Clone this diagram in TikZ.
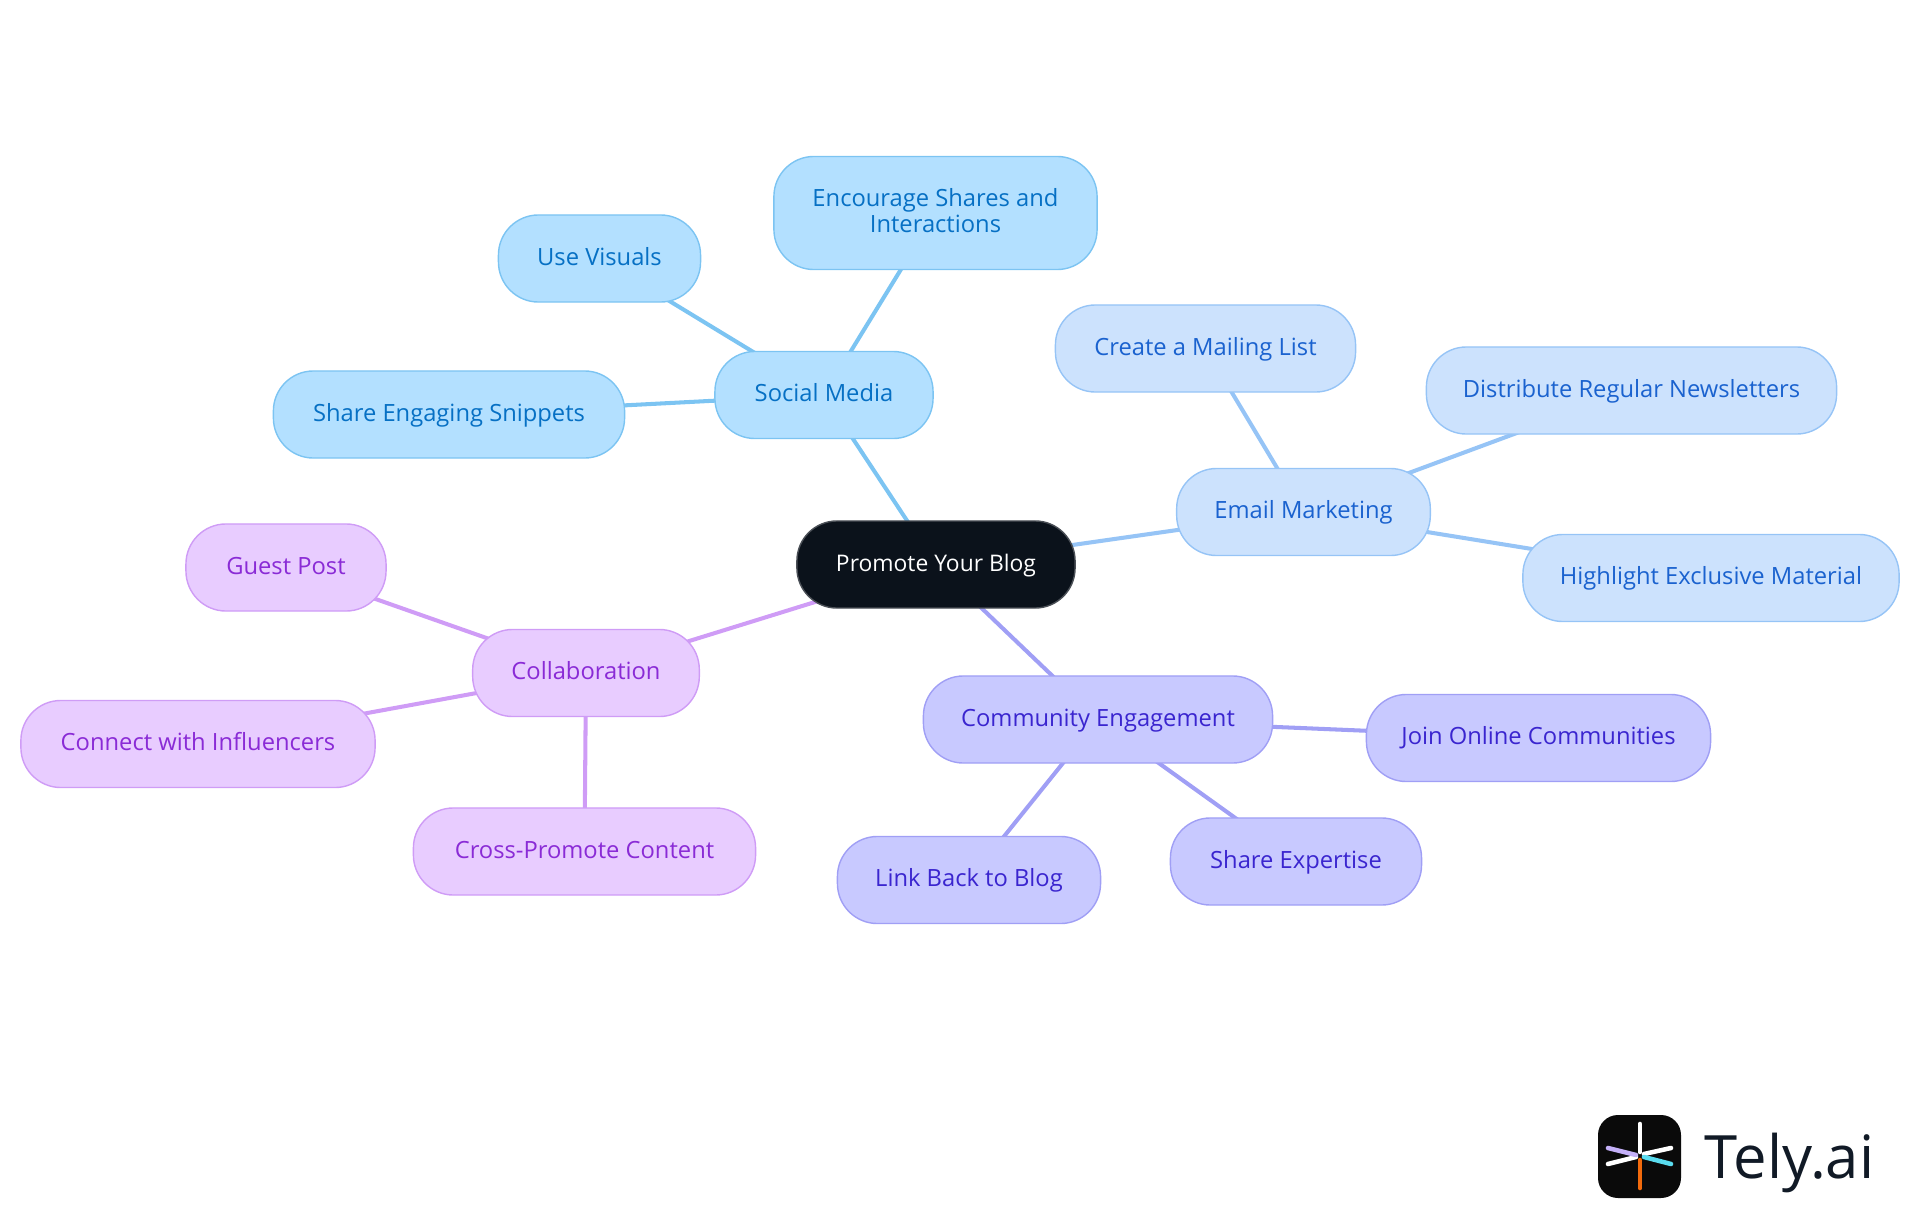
\documentclass[tikz,border=0pt]{standalone}
\usepackage{fontspec}
\setmainfont{Open Sans}
\usetikzlibrary{backgrounds}
\definecolor{rootfill}{HTML}{0B121B}
\definecolor{rootline}{HTML}{4A4F56}
\definecolor{socialfill}{HTML}{B3E0FF}
\definecolor{socialline}{HTML}{7CC4F2}
\definecolor{socialtext}{HTML}{0670C4}
\definecolor{emailfill}{HTML}{CCE2FD}
\definecolor{emailline}{HTML}{96C4F6}
\definecolor{emailtext}{HTML}{1A62CF}
\definecolor{communityfill}{HTML}{C8C9FF}
\definecolor{communityline}{HTML}{A09FF5}
\definecolor{communitytext}{HTML}{3A25CF}
\definecolor{collabfill}{HTML}{E8CCFF}
\definecolor{collabline}{HTML}{CF9CF6}
\definecolor{collabtext}{HTML}{8A2BD6}
\definecolor{logotext}{HTML}{111A26}
\definecolor{logoback}{HTML}{0A0A0A}
\definecolor{logoorange}{HTML}{F26A0C}
\definecolor{logopurple}{HTML}{C4B0F8}
\definecolor{logocyan}{HTML}{5ADCEF}

\begin{document}
\begin{tikzpicture}[x=0.01cm, y=-0.01cm,
    every node/.style={font=\fontsize{6.75}{7.4}\selectfont, align=center, inner sep=0pt, minimum height=0.87cm, rounded corners=0.4cm, line width=0.4pt},
    oneline/.style={text height=5.9pt, text depth=2pt},
    root/.style={oneline, draw=rootline, fill=rootfill, text=white, font=\fontsize{6.5}{7.4}\selectfont},
    social/.style={oneline, draw=socialline, fill=socialfill, text=socialtext},
    email/.style={oneline, draw=emailline, fill=emailfill, text=emailtext},
    community/.style={oneline, draw=communityline, fill=communityfill, text=communitytext},
    collab/.style={oneline, draw=collabline, fill=collabfill, text=collabtext},
    link/.style={line width=1.15pt},
    spoke/.style={line width=1.3pt, line cap=round}]
    \useasboundingbox (0,0) rectangle (1920,1215);

    \node[root, minimum width=2.78cm] (blog) at (936,564.5) {Promote Your Blog};

    \node[social, minimum width=2.18cm] (media) at (824,395) {Social Media};
    \node[social, minimum width=3.23cm, minimum height=1.13cm, text height=, text depth=] (shares) at (935.5,213) {Encourage Shares and\\Interactions\vspace{1.5pt}};
    \node[social, minimum width=2.02cm] (visuals) at (599.5,258.5) {Use Visuals};
    \node[social, minimum width=3.51cm] (snippets) at (449,414.5) {Share Engaging Snippets};

    \node[email, minimum width=2.535cm] (mail) at (1303.5,512) {Email Marketing};
    \node[email, minimum width=3cm] (list) at (1205.5,348.5) {Create a Mailing List};
    \node[email, minimum width=4.1cm] (letters) at (1631.5,390.5) {Distribute Regular Newsletters};
    \node[email, minimum width=3.76cm] (material) at (1711,578) {Highlight Exclusive Material};

    \node[community, minimum width=3.49cm] (people) at (1098,719.5) {Community Engagement};
    \node[community, minimum width=3.44cm] (online) at (1538.5,738) {Join Online Communities};
    \node[community, minimum width=2.51cm] (expert) at (1296,861.5) {Share Expertise};
    \node[community, minimum width=2.63cm] (back) at (969,880) {Link Back to Blog};

    \node[collab, minimum width=2.265cm] (team) at (586,673) {Collaboration};
    \node[collab, minimum width=2cm] (guest) at (286,567.5) {Guest Post};
    \node[collab, minimum width=3.54cm] (influencers) at (198,744) {Connect with Influencers};
    \node[collab, minimum width=3.42cm] (cross) at (584.5,851.5) {Cross-Promote Content};

    \begin{pgfonlayer}{background}
    \draw[link, socialline] (blog.center) -- (media.center);
    \draw[link, socialline] (media.center) -- (shares.center);
    \draw[link, socialline] (media.center) -- (visuals.center);
    \draw[link, socialline] (media.center) -- (snippets.center);
    \draw[link, emailline] (blog.center) -- (mail.center);
    \draw[link, emailline] (mail.center) -- (list.center);
    \draw[link, emailline] (mail.center) -- (letters.center);
    \draw[link, emailline] (mail.center) -- (material.center);
    \draw[link, communityline] (blog.center) -- (people.center);
    \draw[link, communityline] (people.center) -- (online.center);
    \draw[link, communityline] (people.center) -- (expert.center);
    \draw[link, communityline] (people.center) -- (back.center);
    \draw[link, collabline] (blog.center) -- (team.center);
    \draw[link, collabline] (team.center) -- (guest.center);
    \draw[link, collabline] (team.center) -- (influencers.center);
    \draw[link, collabline] (team.center) -- (cross.center);
    \end{pgfonlayer}

    % logo
    \fill[logoback, rounded corners=0.2cm] (1598,1115) rectangle (1681,1198);
    \draw[spoke, white] (1640,1152) -- (1640,1124);
    \draw[spoke, white] (1636,1157) -- (1608,1164);
    \draw[spoke, white] (1644,1154) -- (1671,1148);
    \draw[spoke, logoorange] (1640,1160) -- (1640,1188);
    \draw[spoke, logopurple] (1636,1155) -- (1608,1148);
    \draw[spoke, logocyan] (1644,1157) -- (1671,1164);
    \node[font=\fontsize{17}{18}\selectfont, text=logotext, minimum height=0pt, anchor=base west] (brand) at (1704,1178) {Tely.ai};
\end{tikzpicture}
\end{document}
